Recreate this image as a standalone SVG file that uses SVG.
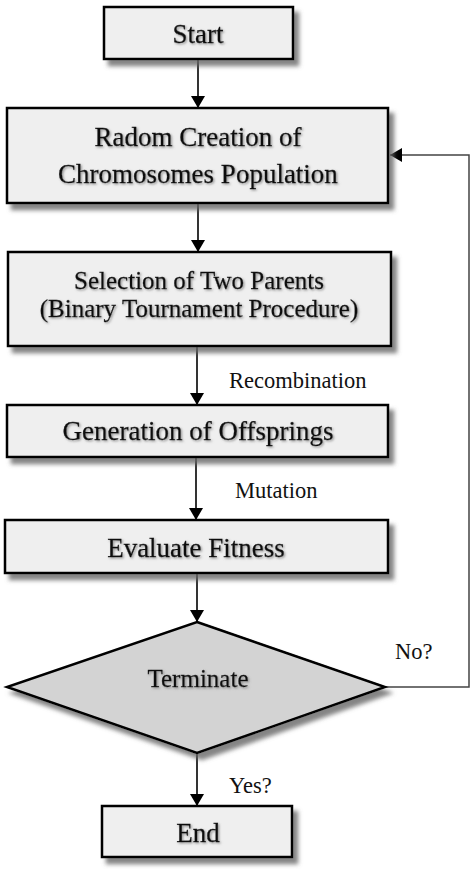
<svg xmlns="http://www.w3.org/2000/svg" width="474" height="869" viewBox="0 0 474 869">
<defs>
<filter id="sh" x="-10%" y="-10%" width="130%" height="140%">
<feDropShadow dx="5" dy="6" stdDeviation="2" flood-color="#666" flood-opacity="0.8"/>
</filter>
<filter id="tsh" x="-5%" y="-20%" width="115%" height="150%">
<feDropShadow dx="1.2" dy="1.2" stdDeviation="0.8" flood-color="#777" flood-opacity="0.8"/>
</filter>
<marker id="ah" viewBox="0 0 12 14" refX="12" refY="7" markerWidth="12" markerHeight="14" markerUnits="userSpaceOnUse" orient="auto">
<path d="M0,0 L12,7 L0,14 Z" fill="#000"/>
</marker>
</defs>
<style>
.box{fill:#efefef;stroke:#000;stroke-width:2.5;filter:url(#sh)}
.dia{fill:#d3d3d3;stroke:#000;stroke-width:2.5;filter:url(#sh)}
.t{font-family:"Liberation Serif","Times New Roman",serif;fill:#111;stroke:#111;stroke-width:0.3;text-anchor:middle;filter:url(#tsh)}
.lbl{font-family:"Liberation Serif","Times New Roman",serif;fill:#111;font-size:22.5px}
.c{stroke:#000;stroke-width:1.6;fill:none;marker-end:url(#ah)}
.fb{stroke:#444;stroke-width:1.5;fill:none;marker-end:url(#ah)}
</style>
<rect width="474" height="869" fill="#fff"/>
<g id="connectors">
<line class="c" x1="198" y1="59" x2="198" y2="108"/>
<line class="c" x1="198" y1="203" x2="198" y2="252"/>
<line class="c" x1="197" y1="346" x2="197" y2="405"/>
<line class="c" x1="196" y1="457" x2="196" y2="520"/>
<line class="c" x1="197" y1="573" x2="197" y2="622"/>
<line class="c" x1="197" y1="753" x2="197" y2="806"/>
<polyline class="fb" points="385,687 469,687 469,155 390,155"/>
<text class="lbl" x="229" y="388">Recombination</text>
<text class="lbl" x="235" y="498">Mutation</text>
<text class="lbl" x="395" y="659">No?</text>
<text class="lbl" x="229" y="793">Yes?</text>
</g>
<g id="start">
<rect class="box" x="104" y="7" width="189" height="52"/>
<text class="t" x="198" y="43" font-size="27">Start</text>
</g>
<g id="creation">
<rect class="box" x="7" y="108" width="381" height="95"/>
<text class="t" x="198" y="146" font-size="27">Radom Creation of</text>
<text class="t" x="198" y="183" font-size="27">Chromosomes Population</text>
</g>
<g id="selection">
<rect class="box" x="8" y="252" width="383" height="94"/>
<text class="t" x="199" y="289" font-size="25">Selection of Two Parents</text>
<text class="t" x="199" y="317" font-size="25">(Binary Tournament Procedure)</text>
</g>
<g id="generation">
<rect class="box" x="7" y="405" width="381" height="52"/>
<text class="t" x="198" y="440" font-size="27">Generation of Offsprings</text>
</g>
<g id="evaluate">
<rect class="box" x="5" y="520" width="383" height="53"/>
<text class="t" x="196" y="557" font-size="27">Evaluate Fitness</text>
</g>
<g id="terminate">
<polygon class="dia" points="197,622 385,687 197,753 7,687"/>
<text class="t" x="198" y="687" font-size="25">Terminate</text>
</g>
<g id="end">
<rect class="box" x="102" y="806" width="190" height="51"/>
<text class="t" x="198" y="842" font-size="27">End</text>
</g>
</svg>
